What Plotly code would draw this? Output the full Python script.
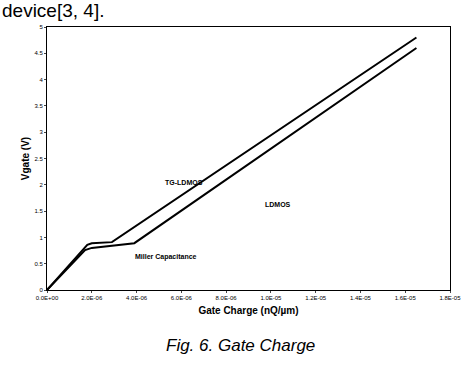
import plotly.graph_objects as go

# Data (Gate charge in nQ/um, Vgate in V)
tg_charge = [0, 1.8e-6, 2.0e-6, 2.9e-6, 1.65e-5]
tg_vgate = [0, 0.86, 0.89, 0.91, 4.80]
ld_charge = [0, 1.7e-6, 2.0e-6, 3.5e-6, 3.9e-6, 1.65e-5]
ld_vgate = [0, 0.76, 0.80, 0.86, 0.89, 4.60]

x_tick_vals = [0, 2e-6, 4e-6, 6e-6, 8e-6, 1e-5, 1.2e-5, 1.4e-5, 1.6e-5, 1.8e-5]
x_tick_text = ["0.0E+00", "2.0E-06", "4.0E-06", "6.0E-06", "8.0E-06",
               "1.0E-05", "1.2E-05", "1.4E-05", "1.6E-05", "1.8E-05"]
y_tick_vals = [0, 0.5, 1, 1.5, 2, 2.5, 3, 3.5, 4, 4.5, 5]
y_tick_text = ["0", "0.5", "1", "1.5", "2", "2.5", "3", "3.5", "4", "4.5", "5"]

FONT = "Liberation Sans, Arial, sans-serif"
PLOT_H = 376 - 27 - 86
PLOT_W = 474 - 47 - 24

fig = go.Figure()
fig.add_trace(go.Scatter(x=tg_charge, y=tg_vgate, mode="lines", name="TG-LDMOS",
                         line=dict(color="black", width=2)))
fig.add_trace(go.Scatter(x=ld_charge, y=ld_vgate, mode="lines", name="LDMOS",
                         line=dict(color="black", width=2)))

fig.update_layout(
    width=474, height=376,
    margin=dict(l=47, r=24, t=27, b=86),
    paper_bgcolor="white", plot_bgcolor="white",
    showlegend=False,
    font=dict(family=FONT, color="black"),
    xaxis=dict(range=[0, 1.8e-5], tickvals=x_tick_vals, ticktext=x_tick_text,
               tickfont=dict(size=6), showgrid=False, zeroline=False,
               showline=True, linecolor="black", linewidth=1, mirror=True,
               ticks="outside", ticklen=2,
               title=dict(text="<b>Gate Charge (nQ/µm)</b>", font=dict(size=10), standoff=6)),
    yaxis=dict(range=[0, 5], tickvals=y_tick_vals, ticktext=y_tick_text,
               tickfont=dict(size=6), showgrid=False, zeroline=False,
               showline=True, linecolor="black", linewidth=1, mirror=True,
               ticks="outside", ticklen=2,
               title=dict(text="<b>Vgate (V)</b>", font=dict(size=10), standoff=2)),
)

fig.add_annotation(x=6.1e-6, y=2.05, text="<b>TG-LDMOS</b>", showarrow=False,
                   font=dict(size=7))
fig.add_annotation(x=1.03e-5, y=1.62, text="<b>LDMOS</b>", showarrow=False,
                   font=dict(size=7))
fig.add_annotation(x=5.3e-6, y=0.62, text="<b>Miller Capacitance</b>", showarrow=False,
                   font=dict(size=7))

fig.add_annotation(xref="paper", yref="paper", x=0.48, y=-55 / PLOT_H, yanchor="middle",
                   text="<i>Fig. 6. Gate Charge</i>", showarrow=False,
                   font=dict(size=17))
fig.add_annotation(xref="paper", yref="paper", x=-47 / PLOT_W, xanchor="left",
                   y=1 + 17 / PLOT_H, yanchor="middle",
                   text="device[3, 4].", showarrow=False, font=dict(size=19))

fig.write_html("out.html", config={"displayModeBar": False},
               post_script="document.body.style.margin='0';")
